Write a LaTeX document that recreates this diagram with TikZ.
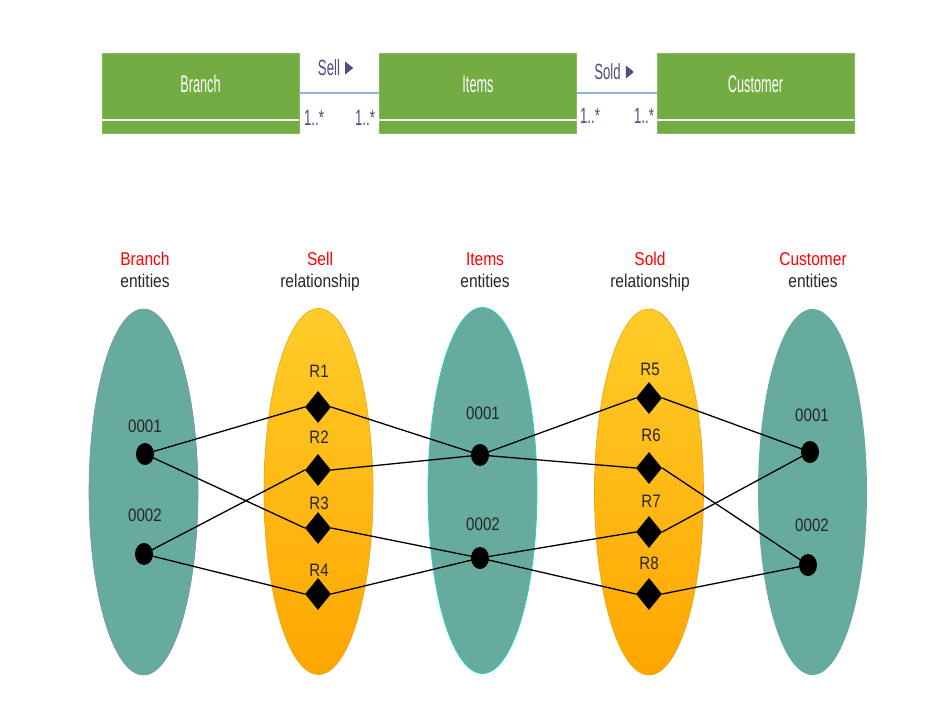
\documentclass[tikz,border=0pt]{standalone}
\usepackage{fontspec}
\setmainfont{Liberation Sans}
\newfontfamily\topfont{Liberation Sans}[FakeStretch=0.6]
\newfontfamily\boxfont{Liberation Sans}[FakeStretch=0.53]
\newfontfamily\lowfont{Liberation Sans}[FakeStretch=0.84]
\usetikzlibrary{shapes.geometric}
\definecolor{boxgreen}{RGB}{114,172,66}
\definecolor{entteal}{RGB}{103,171,159}
\definecolor{relyellow}{RGB}{255,204,41}
\definecolor{relorange}{RGB}{255,166,0}
\definecolor{relborder}{RGB}{230,165,20}
\definecolor{labblue}{RGB}{77,77,128}
\definecolor{linkblue}{RGB}{141,180,226}
\definecolor{brborder}{RGB}{125,140,190}
\definecolor{itborder}{RGB}{40,210,210}
\definecolor{darktext}{RGB}{38,38,38}
\begin{document}
\begin{tikzpicture}[x=1pt,y=-1pt,
  classbox/.style={draw=boxgreen!85!white, fill=boxgreen, minimum width=197pt, minimum height=80pt, inner sep=0pt},
  boxtext/.style={text=white, font=\boxfont\fontsize{24}{26}\selectfont, inner sep=0pt},
  asstext/.style={text=labblue, font=\topfont\fontsize{22}{24}\selectfont, inner sep=0pt},
  asslink/.style={draw=linkblue, line width=1.3pt},
  headtext/.style={align=center, anchor=north, text=darktext, font=\lowfont\fontsize{18.5}{22}\selectfont, inner sep=0pt},
  entset/.style={ellipse, fill=entteal, minimum width=109pt, minimum height=366pt, inner sep=0pt},
  relset/.style={ellipse, top color=relyellow, bottom color=relorange, draw=relborder, line width=0.6pt, minimum width=109pt, minimum height=366pt, inner sep=0pt},
  dot/.style={ellipse, fill=black, minimum width=18pt, minimum height=22pt, inner sep=0pt},
  rel/.style={diamond, fill=black, minimum width=26pt, minimum height=32pt, inner sep=0pt},
  lab/.style={text=darktext, font=\lowfont\fontsize{18}{20}\selectfont, inner sep=0pt},
  link/.style={draw=black, line width=1.3pt}
]
\useasboundingbox (0,0) rectangle (932,717);
\fill[white] (0,0) rectangle (932,717);

% ---- top class diagram ----
\node[classbox] (branch) at (200.5,93) {};
\node[classbox] (items) at (478,93) {};
\node[classbox] (customer) at (755.5,93) {};
\foreach \b in {branch,items,customer}{
  \draw[white!92!boxgreen, line width=2pt] ([yshift=-27pt]\b.west) -- ([yshift=-27pt]\b.east);
}
\node[boxtext] (branchT) at (200.5,84) {Branch};
\node[boxtext] (itemsT) at (478,84) {Items};
\node[boxtext] (customerT) at (755.5,84) {Customer};

\draw[asslink] (branch.east) -- (items.west);
\draw[asslink] (items.east) -- (customer.west);

\node[asstext] (sellT) at (329,68) {Sell};
\fill[labblue] ([xshift=5pt]sellT.east) ++(0,-6.5) -- ++(8,6.5) -- ++(-8,6.5) -- cycle;
\node[asstext] (soldT) at (607.5,72) {Sold};
\fill[labblue] ([xshift=5pt]soldT.east) ++(0,-6.5) -- ++(8,6.5) -- ++(-8,6.5) -- cycle;

\node[asstext] (m1) at (314,118) {1..*};
\node[asstext] (m2) at (365,118) {1..*};
\node[asstext] (m3) at (590,116) {1..*};
\node[asstext] (m4) at (644,116) {1..*};

% ---- headers ----
\node[headtext] (hB) at (145,252) {\vphantom{Bh}\textcolor{red}{Branch}\\entities};
\node[headtext] (hS) at (320,252) {\vphantom{Bh}\textcolor{red}{Sell}\\relationship};
\node[headtext] (hI) at (485,252) {\vphantom{Bh}\textcolor{red}{Items}\\entities};
\node[headtext] (hD) at (650,252) {\vphantom{Bh}\textcolor{red}{Sold}\\relationship};
\node[headtext] (hC) at (813,252) {\vphantom{Bh}\textcolor{red}{Customer}\\entities};

% ---- sets ----
\node[entset, draw=brborder, line width=0.6pt] (setB) at (143.5,492) {};
\node[relset] (setS) at (318.5,491.5) {};
\node[entset, draw=itborder, line width=0.8pt] (setI) at (482.5,490.5) {};
\node[relset] (setD) at (649,492) {};
\node[entset] (setC) at (812.5,492) {};

% ---- elements ----
\node[dot] (b1) at (145,454) {};
\node[dot] (b2) at (144,554) {};
\node[lab] at (145,426) {0001};
\node[lab] at (145,515) {0002};

\node[rel] (r1) at (318,407) {};
\node[rel] (r2) at (318,470) {};
\node[rel] (r3) at (318,528) {};
\node[rel] (r4) at (318,594) {};
\node[lab] at (319,371) {R1};
\node[lab] at (319,437) {R2};
\node[lab] at (319,503) {R3};
\node[lab] at (319,570) {R4};

\node[dot] (i1) at (480,455) {};
\node[dot] (i2) at (480,558) {};
\node[lab] at (483,413) {0001};
\node[lab] at (483,524) {0002};

\node[rel] (r5) at (649,398) {};
\node[rel] (r6) at (649,468) {};
\node[rel] (r7) at (649,532) {};
\node[rel] (r8) at (649,594) {};
\node[lab] at (650,369) {R5};
\node[lab] at (651,435) {R6};
\node[lab] at (651,501) {R7};
\node[lab] at (649,563) {R8};

\node[dot] (c1) at (810,452) {};
\node[dot] (c2) at (808,565) {};
\node[lab] at (812,415) {0001};
\node[lab] at (812,525) {0002};

% ---- links ----
\draw[link] (b1.center) -- (r1.west);
\draw[link] (b1.center) -- (r3.west);
\draw[link] (b2.center) -- (r2.west);
\draw[link] (b2.center) -- (r4.west);
\draw[link] (r1.east) -- (i1.center);
\draw[link] (r2.east) -- (i1.center);
\draw[link] (r3.east) -- (i2.center);
\draw[link] (r4.east) -- (i2.center);
\draw[link] (i1.center) -- (r5.west);
\draw[link] (i1.center) -- (r6.west);
\draw[link] (i2.center) -- (r7.west);
\draw[link] (i2.center) -- (r8.west);
\draw[link] (r5.east) -- (c1.center);
\draw[link] (r7.east) -- (c1.center);
\draw[link] (r6.east) -- (c2.center);
\draw[link] (r8.east) -- (c2.center);
\end{tikzpicture}
\end{document}
